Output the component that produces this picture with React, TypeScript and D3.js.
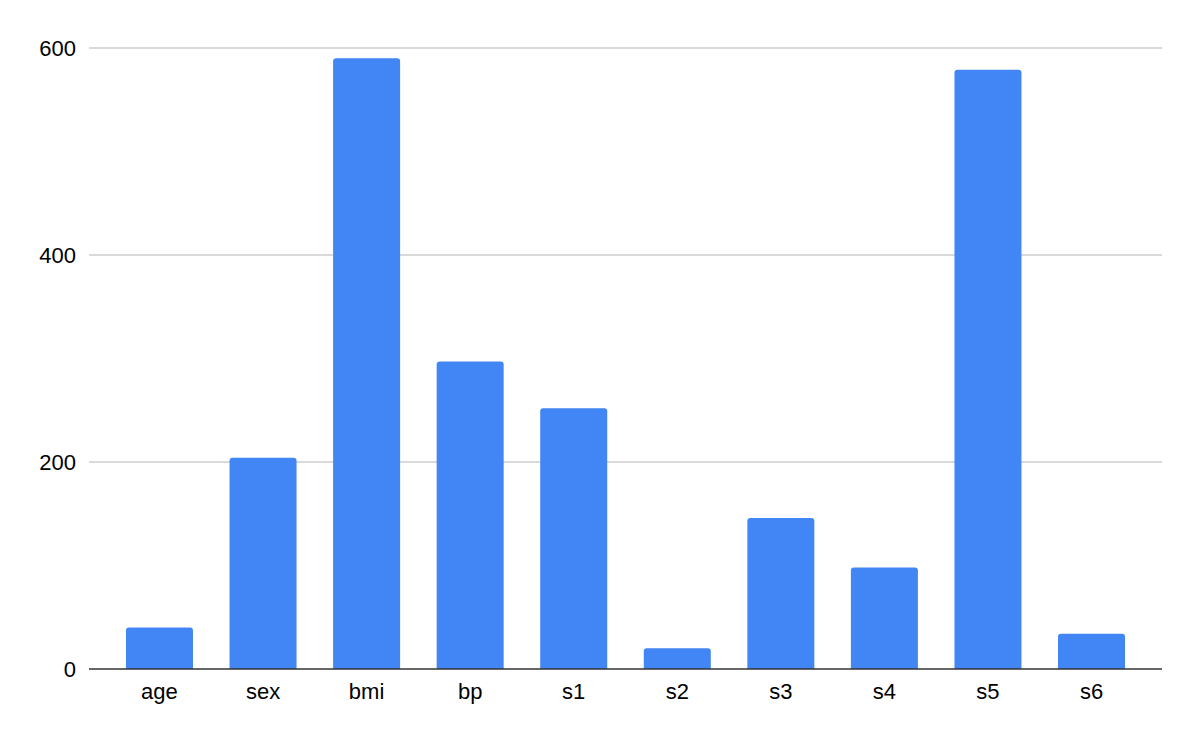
import { useEffect, useRef } from "react";
import * as d3 from "d3";

const CATEGORIES = ["age", "sex", "bmi", "bp", "s1", "s2", "s3", "s4", "s5", "s6"];
const VALUES = [40, 204, 590, 297, 252, 20, 146, 98, 579, 34];
const Y_TICKS = [0, 200, 400, 600];

const W = 1200;
const H = 742;
const FONT = "'Liberation Sans', Arial, sans-serif";

export default function App() {
  const svgRef = useRef<SVGSVGElement>(null);

  useEffect(() => {
    const svgEl = svgRef.current;
    if (!svgEl) return;

    const plotLeft = 89;
    const plotRight = 1162;

    const x = d3
      .scaleBand<string>()
      .domain(CATEGORIES)
      .range([107.7, 1143.3])
      .paddingInner(0.353)
      .paddingOuter(0.1765);
    const y = d3.scaleLinear().domain([0, 600]).range([669, 48]);

    const root = d3.select(svgEl);
    root.selectAll("*").remove();

    // gridlines
    root
      .append("g")
      .selectAll("line")
      .data(Y_TICKS.filter((t) => t !== 0))
      .join("line")
      .attr("x1", plotLeft)
      .attr("x2", plotRight)
      .attr("y1", (d) => y(d))
      .attr("y2", (d) => y(d))
      .attr("stroke", "#cccccc")
      .attr("stroke-width", 1.5);

    // y labels
    root
      .append("g")
      .selectAll("text")
      .data(Y_TICKS)
      .join("text")
      .attr("x", 76)
      .attr("y", (d) => y(d))
      .attr("dy", "0.36em")
      .attr("text-anchor", "end")
      .attr("font-family", FONT)
      .attr("font-size", 22)
      .attr("fill", "#000")
      .text((d) => String(d));

    // bars with rounded top corners
    const r = 3;
    root
      .append("g")
      .selectAll("path")
      .data(VALUES)
      .join("path")
      .attr("fill", "#4285f4")
      .attr("d", (d, i) => {
        const x0 = x(CATEGORIES[i]) ?? 0;
        const x1 = x0 + x.bandwidth();
        const y0 = y(0);
        const yt = y(d);
        const p = d3.path();
        p.moveTo(x0, y0);
        p.lineTo(x0, yt + r);
        p.quadraticCurveTo(x0, yt, x0 + r, yt);
        p.lineTo(x1 - r, yt);
        p.quadraticCurveTo(x1, yt, x1, yt + r);
        p.lineTo(x1, y0);
        p.closePath();
        return p.toString();
      });

    // baseline
    root
      .append("line")
      .attr("x1", plotLeft)
      .attr("x2", plotRight)
      .attr("y1", y(0))
      .attr("y2", y(0))
      .attr("stroke", "#333333")
      .attr("stroke-width", 1.5);

    // x labels
    root
      .append("g")
      .selectAll("text")
      .data(CATEGORIES)
      .join("text")
      .attr("x", (d) => (x(d) ?? 0) + x.bandwidth() / 2)
      .attr("y", 699)
      .attr("text-anchor", "middle")
      .attr("font-family", FONT)
      .attr("font-size", 22)
      .attr("fill", "#000")
      .text((d) => d);
  }, []);

  return (
    <svg
      ref={svgRef}
      width={W}
      height={H}
      style={{ position: "absolute", left: 0, top: 0, background: "#fff" }}
    />
  );
}
